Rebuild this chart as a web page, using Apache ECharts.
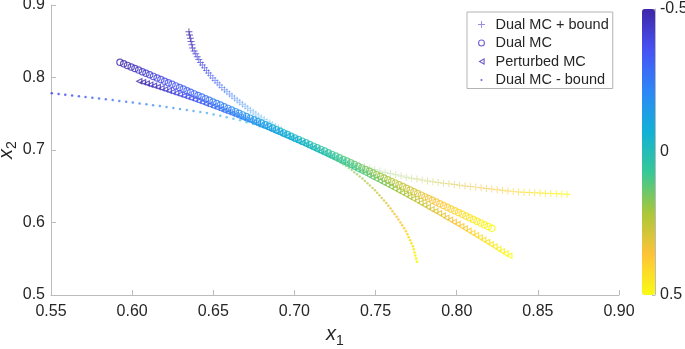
<!DOCTYPE html>
<html>
<head>
<meta charset="utf-8">
<script src="https://cdn.jsdelivr.net/npm/echarts@6/dist/echarts.min.js"></script>
<style>
  html, body { margin: 0; padding: 0; background: #fff; }
  #chart { width: 685px; height: 349px; }
</style>
</head>
<body>
<div id="chart"></div>
<script>
// colour parameter of each sample (shared by the four curves)
var levels = [
  -0.50,-0.49,-0.48,-0.47,-0.46,-0.45,-0.44,-0.43,-0.42,-0.41,
  -0.40,-0.39,-0.38,-0.37,-0.36,-0.35,-0.34,-0.33,-0.32,-0.31,
  -0.30,-0.29,-0.28,-0.27,-0.26,-0.25,-0.24,-0.23,-0.22,-0.21,
  -0.20,-0.19,-0.18,-0.17,-0.16,-0.15,-0.14,-0.13,-0.12,-0.11,
  -0.10,-0.09,-0.08,-0.07,-0.06,-0.05,-0.04,-0.03,-0.02,-0.01,
  0.00,0.01,0.02,0.03,0.04,0.05,0.06,0.07,0.08,0.09,
  0.10,0.11,0.12,0.13,0.14,0.15,0.16,0.17,0.18,0.19,
  0.20,0.21,0.22,0.23,0.24,0.25,0.26,0.27,0.28,0.29,
  0.30,0.31,0.32,0.33,0.34,0.35,0.36,0.37,0.38,0.39,
  0.40,0.41,0.42,0.43,0.44,0.45,0.46,0.47,0.48,0.49,
  0.50
];

// Dual MC + bound
var plusX = [
  0.6350,0.6354,0.6359,0.6363,0.6368, 0.6372,0.6382,0.6392,0.6401,0.6411,
  0.6421,0.6433,0.6446,0.6458,0.6471, 0.6483,0.6497,0.6511,0.6525,0.6539,
  0.6553,0.6569,0.6584,0.6600,0.6615, 0.6631,0.6647,0.6663,0.6680,0.6696,
  0.6712,0.6729,0.6746,0.6762,0.6779, 0.6796,0.6814,0.6831,0.6849,0.6866,
  0.6884,0.6902,0.6919,0.6937,0.6954, 0.6972,0.6990,0.7007,0.7025,0.7042,
  0.7060,0.7091,0.7122,0.7152,0.7183, 0.7214,0.7245,0.7276,0.7306,0.7337,
  0.7368,0.7400,0.7432,0.7463,0.7495, 0.7527,0.7559,0.7592,0.7624,0.7657,
  0.7689,0.7722,0.7755,0.7787,0.7820, 0.7853,0.7886,0.7919,0.7952,0.7985,
  0.8018,0.8051,0.8084,0.8117,0.8150, 0.8183,0.8216,0.8249,0.8282,0.8315,
  0.8348,0.8381,0.8414,0.8448,0.8481, 0.8514,0.8547,0.8580,0.8614,0.8647,
  0.8680
];
var plusY = [
  0.8630,0.8585,0.8541,0.8496,0.8452, 0.8407,0.8367,0.8327,0.8287,0.8247,
  0.8207,0.8171,0.8135,0.8098,0.8062, 0.8026,0.7993,0.7960,0.7928,0.7895,
  0.7862,0.7832,0.7803,0.7773,0.7744, 0.7714,0.7686,0.7658,0.7631,0.7603,
  0.7575,0.7549,0.7523,0.7496,0.7470, 0.7444,0.7421,0.7398,0.7376,0.7353,
  0.7330,0.7307,0.7284,0.7261,0.7238, 0.7215,0.7192,0.7169,0.7146,0.7123,
  0.7100,0.7071,0.7042,0.7014,0.6985, 0.6956,0.6928,0.6900,0.6871,0.6843,
  0.6815,0.6794,0.6773,0.6751,0.6730, 0.6709,0.6692,0.6675,0.6658,0.6641,
  0.6624,0.6611,0.6599,0.6586,0.6574, 0.6561,0.6552,0.6542,0.6533,0.6523,
  0.6514,0.6505,0.6496,0.6488,0.6479, 0.6470,0.6461,0.6452,0.6444,0.6435,
  0.6426,0.6422,0.6418,0.6414,0.6410, 0.6406,0.6403,0.6400,0.6396,0.6393,
  0.6390
];

// Dual MC
var dualX = [
  0.5925,0.5948,0.5971,0.5994,0.6017, 0.6040,0.6063,0.6085,0.6108,0.6131,
  0.6154,0.6177,0.6200,0.6223,0.6246, 0.6269,0.6292,0.6315,0.6338,0.6360,
  0.6383,0.6406,0.6429,0.6452,0.6475, 0.6498,0.6521,0.6544,0.6567,0.6590,
  0.6613,0.6636,0.6658,0.6681,0.6704, 0.6727,0.6750,0.6773,0.6796,0.6819,
  0.6842,0.6865,0.6888,0.6911,0.6933, 0.6956,0.6979,0.7002,0.7025,0.7048,
  0.7071,0.7094,0.7117,0.7140,0.7163, 0.7186,0.7209,0.7231,0.7254,0.7277,
  0.7300,0.7323,0.7346,0.7369,0.7392, 0.7415,0.7438,0.7461,0.7484,0.7506,
  0.7529,0.7552,0.7575,0.7598,0.7621, 0.7644,0.7667,0.7690,0.7713,0.7736,
  0.7759,0.7782,0.7804,0.7827,0.7850, 0.7873,0.7896,0.7919,0.7942,0.7965,
  0.7988,0.8011,0.8034,0.8057,0.8079, 0.8102,0.8125,0.8148,0.8171,0.8194,
  0.8217
];
var dualY = [
  0.8210,0.8188,0.8167,0.8145,0.8124, 0.8102,0.8080,0.8058,0.8037,0.8015,
  0.7993,0.7971,0.7949,0.7928,0.7906, 0.7884,0.7862,0.7840,0.7818,0.7796,
  0.7774,0.7752,0.7730,0.7707,0.7685, 0.7663,0.7641,0.7619,0.7596,0.7574,
  0.7552,0.7529,0.7507,0.7484,0.7462, 0.7439,0.7417,0.7394,0.7372,0.7349,
  0.7327,0.7304,0.7281,0.7259,0.7236, 0.7213,0.7190,0.7167,0.7145,0.7122,
  0.7099,0.7076,0.7053,0.7031,0.7008, 0.6985,0.6962,0.6939,0.6916,0.6893,
  0.6870,0.6847,0.6823,0.6800,0.6776, 0.6753,0.6730,0.6707,0.6683,0.6660,
  0.6637,0.6613,0.6590,0.6566,0.6543, 0.6519,0.6495,0.6472,0.6448,0.6425,
  0.6401,0.6377,0.6353,0.6330,0.6306, 0.6282,0.6258,0.6234,0.6210,0.6186,
  0.6162,0.6138,0.6114,0.6090,0.6066, 0.6042,0.6018,0.5994,0.5969,0.5945,
  0.5921
];

// Perturbed MC
var pertX = [
  0.6042,0.6065,0.6088,0.6110,0.6133, 0.6156,0.6179,0.6202,0.6224,0.6247,
  0.6270,0.6293,0.6316,0.6338,0.6361, 0.6384,0.6407,0.6430,0.6452,0.6475,
  0.6498,0.6521,0.6544,0.6566,0.6589, 0.6612,0.6635,0.6658,0.6680,0.6703,
  0.6726,0.6749,0.6772,0.6794,0.6817, 0.6840,0.6863,0.6886,0.6908,0.6931,
  0.6954,0.6977,0.7000,0.7022,0.7045, 0.7068,0.7091,0.7114,0.7136,0.7159,
  0.7182,0.7205,0.7228,0.7250,0.7273, 0.7296,0.7319,0.7342,0.7364,0.7387,
  0.7410,0.7433,0.7456,0.7478,0.7501, 0.7524,0.7547,0.7570,0.7592,0.7615,
  0.7638,0.7661,0.7684,0.7706,0.7729, 0.7752,0.7775,0.7798,0.7820,0.7843,
  0.7866,0.7889,0.7912,0.7934,0.7957, 0.7980,0.8003,0.8026,0.8048,0.8071,
  0.8094,0.8117,0.8140,0.8162,0.8185, 0.8208,0.8231,0.8254,0.8276,0.8299,
  0.8322
];
var pertY = [
  0.7950,0.7934,0.7918,0.7901,0.7885, 0.7869,0.7852,0.7835,0.7818,0.7801,
  0.7784,0.7766,0.7748,0.7731,0.7713, 0.7695,0.7676,0.7657,0.7639,0.7620,
  0.7601,0.7582,0.7562,0.7543,0.7523, 0.7504,0.7484,0.7463,0.7443,0.7422,
  0.7402,0.7381,0.7360,0.7338,0.7317, 0.7296,0.7274,0.7252,0.7230,0.7208,
  0.7186,0.7163,0.7140,0.7118,0.7095, 0.7072,0.7048,0.7024,0.7001,0.6977,
  0.6953,0.6929,0.6904,0.6880,0.6855, 0.6831,0.6806,0.6780,0.6755,0.6729,
  0.6704,0.6678,0.6652,0.6625,0.6599, 0.6573,0.6546,0.6519,0.6492,0.6465,
  0.6438,0.6410,0.6382,0.6355,0.6327, 0.6299,0.6270,0.6241,0.6213,0.6184,
  0.6155,0.6126,0.6096,0.6067,0.6037, 0.6008,0.5978,0.5947,0.5917,0.5886,
  0.5856,0.5825,0.5794,0.5762,0.5731, 0.5700,0.5668,0.5636,0.5604,0.5572,
  0.5540
];

// Dual MC - bound
var minusX = [
  0.5005,0.5047,0.5088,0.5130,0.5171, 0.5213,0.5255,0.5297,0.5338,0.5380,
  0.5422,0.5464,0.5505,0.5547,0.5588, 0.5630,0.5672,0.5713,0.5755,0.5796,
  0.5838,0.5880,0.5921,0.5963,0.6004, 0.6046,0.6088,0.6129,0.6171,0.6212,
  0.6254,0.6295,0.6337,0.6378,0.6420, 0.6461,0.6502,0.6543,0.6583,0.6624,
  0.6665,0.6705,0.6745,0.6785,0.6825, 0.6865,0.6904,0.6943,0.6982,0.7021,
  0.7060,0.7079,0.7098,0.7117,0.7136, 0.7155,0.7173,0.7192,0.7210,0.7229,
  0.7247,0.7265,0.7283,0.7300,0.7318, 0.7336,0.7353,0.7369,0.7386,0.7402,
  0.7419,0.7434,0.7450,0.7465,0.7481, 0.7496,0.7510,0.7524,0.7538,0.7552,
  0.7566,0.7579,0.7592,0.7604,0.7617, 0.7630,0.7641,0.7653,0.7664,0.7676,
  0.7687,0.7696,0.7704,0.7713,0.7721, 0.7730,0.7735,0.7740,0.7745,0.7750,
  0.7755
];
var minusY = [
  0.7897,0.7888,0.7878,0.7869,0.7859, 0.7850,0.7841,0.7832,0.7822,0.7813,
  0.7804,0.7794,0.7784,0.7773,0.7763, 0.7753,0.7742,0.7731,0.7721,0.7710,
  0.7699,0.7688,0.7677,0.7665,0.7654, 0.7643,0.7631,0.7618,0.7606,0.7593,
  0.7581,0.7567,0.7553,0.7538,0.7524, 0.7510,0.7490,0.7471,0.7451,0.7432,
  0.7412,0.7384,0.7357,0.7329,0.7302, 0.7274,0.7239,0.7204,0.7170,0.7135,
  0.7100,0.7079,0.7058,0.7038,0.7017, 0.6996,0.6973,0.6950,0.6926,0.6903,
  0.6880,0.6854,0.6829,0.6803,0.6778, 0.6752,0.6723,0.6694,0.6664,0.6635,
  0.6606,0.6574,0.6542,0.6509,0.6477, 0.6445,0.6410,0.6375,0.6339,0.6304,
  0.6269,0.6231,0.6193,0.6156,0.6118, 0.6080,0.6040,0.6000,0.5961,0.5921,
  0.5881,0.5839,0.5797,0.5756,0.5714, 0.5672,0.5630,0.5587,0.5545,0.5502,
  0.5460
];

var xTicks = [0.55, 0.60, 0.65, 0.70, 0.75, 0.80, 0.85, 0.90];
var yTicks = [0.5, 0.6, 0.7, 0.8, 0.9];
var barTicks = [-0.5, 0, 0.5];
var seriesNames = ['Dual MC + bound', 'Dual MC', 'Perturbed MC', 'Dual MC - bound'];

// parula
var parula = ['#3e26a8', '#4752f4', '#2d87f7', '#12b1d6', '#37c897', '#abc739', '#fec338', '#f9fb14'];

var FONT = 'Liberation Sans, Arial, Helvetica, sans-serif';
var TXT = '#262626';
var AX = '#bcbcbc';

var plusSym = 'path://M4.3,0H5.7V4.3H10V5.7H5.7V10H4.3V5.7H0V4.3H4.3Z';
var ringSym = 'path://M5,0A5,5,0,1,1,5,10A5,5,0,1,1,5,0ZM5,1.6A3.4,3.4,0,1,0,5,8.4A3.4,3.4,0,1,0,5,1.6Z';
var triSym = 'path://M0,5L9,0L9,10ZM3.2,5L7.4,7.3L7.4,2.7Z';
var dotIcon = 'path://M0,0L0.01,0.01M10,10L9.99,9.99M5,3.4A1.6,1.6,0,1,1,5,6.6A1.6,1.6,0,1,1,5,3.4Z';

function points(xs, ys, fade) {
  return xs.map(function (x, i) {
    var item = { value: [x, ys[i], levels[i]] };
    if (fade) {
      // the bound curves get lighter towards the middle of the sweep
      item.itemStyle = { opacity: Math.min(1, fade[0] + fade[1] * Math.abs(levels[i])) };
    }
    return item;
  });
}

var myChart = echarts.init(document.getElementById('chart'), null, { renderer: 'canvas' });

var option = {
  animation: false,
  backgroundColor: '#fff',
  textStyle: { fontFamily: FONT },
  grid: [
    { left: 51, right: 66, top: 5, bottom: 54, outerBoundsMode: 'none' },
    { left: 642, top: 9, width: 13, height: 286, outerBoundsMode: 'none' }
  ],
  xAxis: [
    {
      type: 'value', gridIndex: 0,
      min: xTicks[0], max: xTicks[xTicks.length - 1], interval: xTicks[1] - xTicks[0],
      name: '{i|x}{s|1}', nameLocation: 'middle', nameGap: 24,
      nameTextStyle: {
        color: TXT,
        rich: {
          i: { fontSize: 20, fontStyle: 'italic', fontFamily: FONT, color: TXT },
          s: { fontSize: 14, fontFamily: FONT, color: TXT, padding: [12, 0, 0, 0] }
        }
      },
      axisLine: { show: true, onZero: false, lineStyle: { color: AX, width: 1 } },
      axisTick: { show: true, inside: true, length: 5, lineStyle: { color: AX } },
      axisLabel: { color: TXT, fontSize: 16, fontFamily: FONT, margin: 9,
        formatter: function (v) { return v.toFixed(2); } },
      splitLine: { show: false }
    },
    { type: 'value', gridIndex: 1, min: 0, max: 1, show: false }
  ],
  yAxis: [
    {
      type: 'value', gridIndex: 0,
      min: yTicks[0], max: yTicks[yTicks.length - 1], interval: yTicks[1] - yTicks[0],
      name: '{i|x}{s|2}', nameLocation: 'middle', nameGap: 32, nameRotate: 90,
      nameMoveOverlap: false,
      nameTextStyle: {
        color: TXT,
        rich: {
          i: { fontSize: 20, fontStyle: 'italic', fontFamily: FONT, color: TXT },
          s: { fontSize: 14, fontFamily: FONT, color: TXT, padding: [12, 0, 0, 0] }
        }
      },
      axisLine: { show: true, onZero: false, lineStyle: { color: AX, width: 1 } },
      axisTick: { show: true, inside: true, length: 5, lineStyle: { color: AX } },
      axisLabel: { color: TXT, fontSize: 16, fontFamily: FONT, margin: 6,
        formatter: function (v) { return v.toFixed(1); } },
      splitLine: { show: false }
    },
    {
      type: 'value', gridIndex: 1, position: 'right', inverse: true,
      min: barTicks[0], max: barTicks[barTicks.length - 1], interval: barTicks[1] - barTicks[0],
      axisLine: { show: true, onZero: false, lineStyle: { color: AX } },
      axisTick: { show: true, inside: true, length: 3, lineStyle: { color: AX } },
      axisLabel: { color: TXT, fontSize: 16, fontFamily: FONT, margin: 5,
        formatter: function (v) { return v === 0 ? '0' : v.toFixed(1); } },
      splitLine: { show: false }
    }
  ],
  visualMap: {
    type: 'continuous',
    min: barTicks[0], max: barTicks[barTicks.length - 1],
    dimension: 2, seriesIndex: [0, 1, 2, 3],
    inverse: true, orient: 'vertical',
    left: 642, top: 9, itemWidth: 13, itemHeight: 286,
    padding: 0, calculable: false, hoverLink: false,
    inRange: { color: parula }
  },
  legend: {
    orient: 'vertical', left: 467, top: 12,
    padding: [5, 4, 1, 11], itemGap: 3.5,
    itemWidth: 18, itemHeight: 7,
    backgroundColor: '#fff', borderColor: '#b4b4b4', borderWidth: 1,
    textStyle: { color: TXT, fontSize: 14.5, fontFamily: FONT },
    selectedMode: false,
    data: [
      { name: seriesNames[0], icon: plusSym, itemStyle: { color: '#7c72dc' } },
      { name: seriesNames[1], icon: ringSym, itemStyle: { color: '#4f3fc9' } },
      { name: seriesNames[2], icon: triSym, itemStyle: { color: '#4a36c0' } },
      { name: seriesNames[3], icon: dotIcon, itemStyle: { color: '#4a50e0' } }
    ]
  },
  series: [
    {
      name: seriesNames[0], type: 'scatter', symbol: plusSym, symbolSize: 7,
      itemStyle: { color: '#7c72dc' }, silent: true,
      data: points(plusX, plusY, [0.12, 1.3])
    },
    {
      name: seriesNames[1], type: 'scatter', symbol: ringSym, symbolSize: 7.5,
      itemStyle: { color: '#4f3fc9' }, silent: true,
      data: points(dualX, dualY)
    },
    {
      name: seriesNames[2], type: 'scatter', symbol: triSym, symbolSize: 7,
      itemStyle: { color: '#4a36c0' }, silent: true,
      data: points(pertX, pertY)
    },
    {
      name: seriesNames[3], type: 'scatter', symbol: 'circle', symbolSize: 2.5,
      itemStyle: { color: '#4a50e0' }, silent: true,
      data: points(minusX, minusY, [0.45, 1.1])
    }
  ]
};

myChart.setOption(option);
</script>
</body>
</html>
